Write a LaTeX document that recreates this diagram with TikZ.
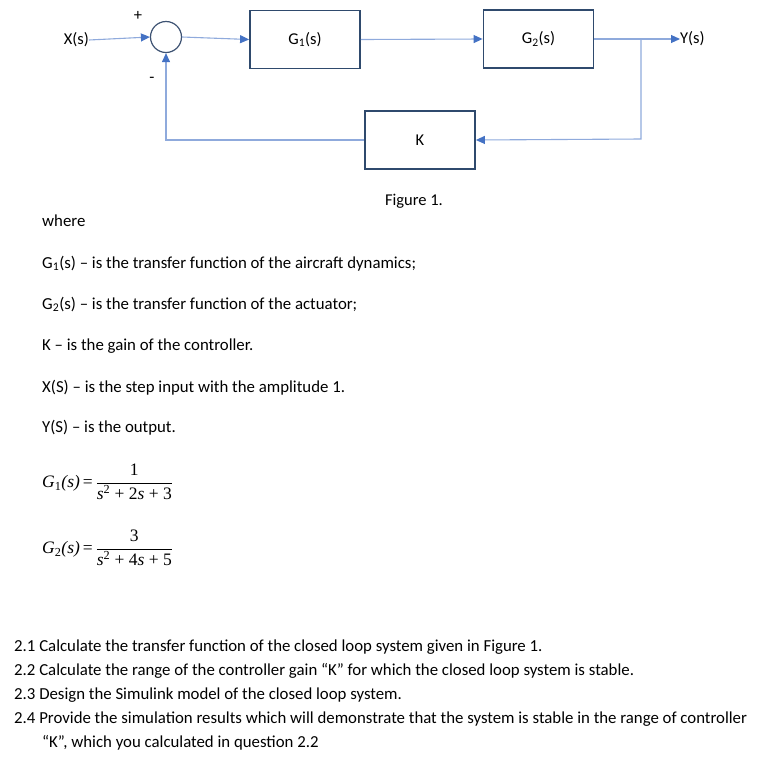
\documentclass[tikz,border=0pt]{standalone}
\usepackage{fontspec}
\setmainfont{Carlito}
\newfontfamily\tnr{Liberation Serif}
\usetikzlibrary{arrows.meta}
\definecolor{connc}{HTML}{8FAADC}
\definecolor{tipc}{HTML}{4472C4}
\definecolor{boxc}{HTML}{2F4A6D}
\definecolor{sumc}{HTML}{3E5373}
\begin{document}
\begin{tikzpicture}[x=1pt,y=-1pt,
  blk/.style={draw=boxc,line width=1.8pt,minimum width=110pt,minimum height=58pt,inner sep=0pt,font=\fontsize{16.5}{18}\selectfont},
  sumnode/.style={circle,draw=sumc,line width=1.2pt,minimum size=31pt,inner sep=0pt},
  connline/.style={draw=connc,line width=1.1pt},
  arr/.style={connline,-{Triangle[length=9pt,width=8pt,color=tipc]}},
  lbl/.style={inner sep=0pt,font=\fontsize{16.5}{18}\selectfont},
  txt/.style={anchor=base west,inner sep=0pt,font=\fontsize{16.8}{19}\selectfont},
  frm/.style={anchor=west,inner sep=0pt,font=\tnr\fontsize{17.5}{20}\selectfont}]
\useasboundingbox (0,0) rectangle (772,764);
% diagram
\node[lbl,anchor=east] (X) at (89,40) {X(s)};
\node[sumnode] (sum) at (166,37) {};
\node[blk] (G1) at (305,39.5) {G\textsubscript{1}(s)};
\node[blk] (G2) at (538.5,39) {G\textsubscript{2}(s)};
\node[blk] (K) at (420,140) {K};
\node[lbl,anchor=west] (Y) at (680,39) {Y(s)};
\node[lbl] (plus) at (138,16) {+};
\node[lbl] (minus) at (152,80) {-};
\coordinate (br) at (641,39);
\coordinate (brd) at (641,139);
\draw[arr] (X.east) -- (sum.west);
\draw[arr] (sum.east) -- (G1.west);
\draw[arr] (G1.east) -- (G2.west);
\draw[arr] (G2.east) -- (Y.west);
\draw[arr] (br) -- (brd) -- (K.east);
\draw[arr] (K.west) -- (K.west -| sum.south) -- (sum.south);
\node[lbl] (fig) at (414,201) {Figure 1.};
% text
\node[txt] (where) at (42,226) {where};
\node[txt] (t1) at (42,268) {G\textsubscript{1}(s) – is the transfer function of the aircraft dynamics;};
\node[txt] (t2) at (42,309) {G\textsubscript{2}(s) – is the transfer function of the actuator;};
\node[txt] (t3) at (42,350) {K – is the gain of the controller.};
\node[txt] (t4) at (42,392) {X(S) – is the step input with the amplitude 1.};
\node[txt] (t5) at (42,432) {Y(S) – is the output.};
% formulas
\node[frm] (f1) at (42,482) {\itshape G\textsubscript{\upshape 1}(s)\upshape\,=\,$\displaystyle\frac{\mbox{\tnr 1}}{\mbox{\tnr\itshape s\textsuperscript{\upshape 2}\upshape\ + 2\itshape s\upshape\ + 3}}$};
\node[frm] (f2) at (42,548) {\itshape G\textsubscript{\upshape 2}(s)\upshape\,=\,$\displaystyle\frac{\mbox{\tnr 3}}{\mbox{\tnr\itshape s\textsuperscript{\upshape 2}\upshape\ + 4\itshape s\upshape\ + 5}}$};
% questions
\node[txt] (q1) at (14,651) {2.1 Calculate the transfer function of the closed loop system given in Figure 1.};
\node[txt] (q2) at (14,675) {2.2 Calculate the range of the controller gain “K” for which the closed loop system is stable.};
\node[txt] (q3) at (14,699) {2.3 Design the Simulink model of the closed loop system.};
\node[txt] (q4) at (14,723) {2.4 Provide the simulation results which will demonstrate that the system is stable in the range of controller};
\node[txt] (q5) at (42,747) {“K”, which you calculated in question 2.2};
\end{tikzpicture}
\end{document}
